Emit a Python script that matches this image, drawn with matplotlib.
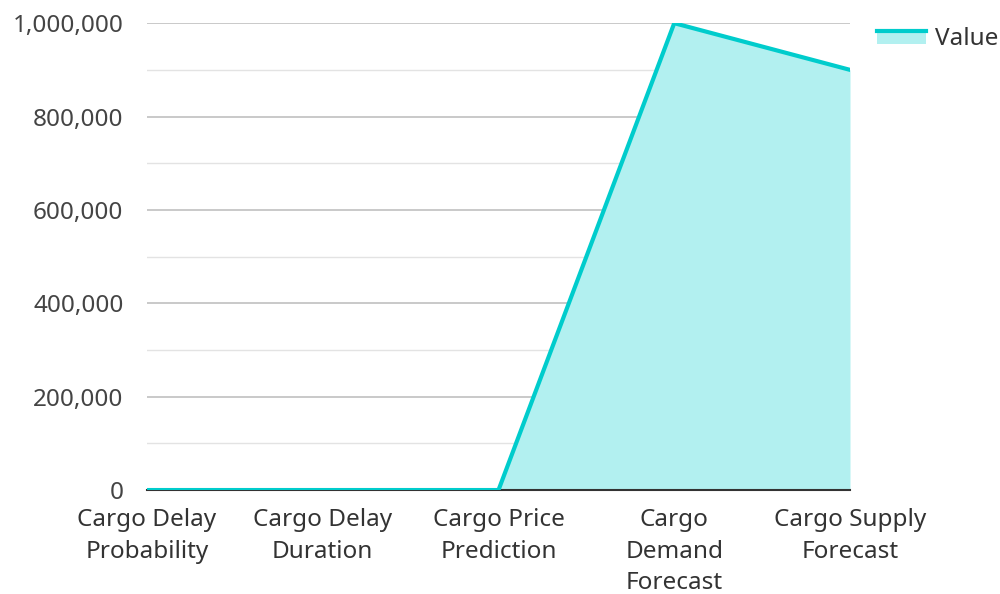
import matplotlib
matplotlib.use("Agg")
import matplotlib.pyplot as plt
from matplotlib.ticker import MultipleLocator, FuncFormatter
from matplotlib.legend_handler import HandlerBase
from matplotlib.patches import Rectangle
from matplotlib.lines import Line2D

categories = ["Cargo Delay\nProbability", "Cargo Delay\nDuration", "Cargo Price\nPrediction",
              "Cargo\nDemand\nForecast", "Cargo Supply\nForecast"]
values = [0, 0, 0, 1000000, 900000]
series_name = "Value"

line_color = "#00cccc"
fill_color = "#b2f0f0"

plt.rcParams['font.family'] = ['Noto Sans', 'DejaVu Sans']

fig = plt.figure(figsize=(10, 5.94), dpi=100)
ax = fig.add_axes([0.147, 0.175, 0.703, 0.786])

x = list(range(len(categories)))
ax.fill_between(x, values, 0, color=fill_color, linewidth=0, zorder=1)
ax.plot(x, values, color=line_color, linewidth=3, zorder=3, solid_joinstyle='miter')

ax.set_xlim(0, len(categories) - 1)
ax.set_ylim(0, 1000000)
ax.yaxis.set_major_locator(MultipleLocator(200000))
ax.yaxis.set_minor_locator(MultipleLocator(100000))
ax.yaxis.set_major_formatter(FuncFormatter(lambda v, p: f"{int(v):,}"))
ax.grid(True, which='major', axis='y', color='#c0c0c0', linewidth=1.2, zorder=0)
ax.grid(True, which='minor', axis='y', color='#e3e3e3', linewidth=1.0, zorder=0)
ax.set_axisbelow(True)

ax.set_xticks(x)
ax.set_xticklabels(categories, linespacing=1.42)
for s in ['top', 'right', 'left']:
    ax.spines[s].set_visible(False)
ax.spines['bottom'].set_color('#333333')
ax.spines['bottom'].set_linewidth(1.5)
ax.spines['bottom'].set_zorder(2)
ax.tick_params(axis='y', which='both', length=0, pad=17, labelsize=17.5, labelcolor='#444444')
ax.tick_params(axis='x', length=0, pad=13, labelsize=17.5, labelcolor='#333333')


class AreaHandler(HandlerBase):
    def create_artists(self, legend, orig_handle, xdescent, ydescent, width, height, fontsize, trans):
        rect = Rectangle((-xdescent, -ydescent), width, height * 0.8, facecolor=fill_color,
                         edgecolor='none', transform=trans)
        ln = Line2D([-xdescent, -xdescent + width], [-ydescent + height * 0.8] * 2,
                    color=line_color, linewidth=3, transform=trans)
        return [rect, ln]


handle = Rectangle((0, 0), 1, 1)
leg = fig.legend([handle], [series_name], handler_map={Rectangle: AreaHandler()},
                 loc='upper left', bbox_to_anchor=(0.877, 0.955), frameon=False,
                 fontsize=17.5, handlelength=2.0, handleheight=0.65, handletextpad=0.38,
                 borderaxespad=0, borderpad=0)
for t in leg.get_texts():
    t.set_color('#333333')

fig.savefig("out.png", dpi=100)
